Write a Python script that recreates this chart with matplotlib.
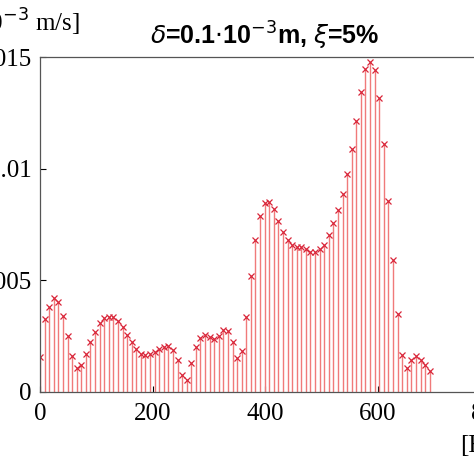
import matplotlib
matplotlib.use("Agg")
import matplotlib.pyplot as plt
import numpy as np

# amplitudes in 1e-3 m/s
amp = [
    1.55, 3.25, 3.82, 4.19, 4.02, 3.42, 2.51, 1.61, 1.06, 1.21,
    1.70, 2.22, 2.70, 3.07, 3.30, 3.37, 3.37, 3.19, 2.93, 2.55,
    2.25, 1.91, 1.70, 1.66, 1.70, 1.81, 1.91, 2.03, 2.06, 1.88,
    1.43, 0.76, 0.54, 1.31, 2.03, 2.43, 2.55, 2.45, 2.36, 2.52,
    2.78, 2.75, 2.25, 1.54, 1.84, 3.37, 5.21, 6.81, 7.90, 8.48,
    8.52, 8.21, 7.67, 7.15, 6.81, 6.58, 6.51, 6.48, 6.39, 6.28,
    6.28, 6.39, 6.60, 7.02, 7.55, 8.15, 8.87, 9.76, 10.87, 12.15,
    13.45, 14.45, 14.79, 14.42, 13.15, 11.09, 8.57, 5.91, 3.48, 1.66,
    1.06, 1.43, 1.61, 1.43, 1.21, 0.95,
]
step = 8.15
freq = np.arange(len(amp)) * step
vals = np.array(amp) * 1e-3

xticks = [0, 200, 400, 600, 800]
yticks = [0, 0.005, 0.01, 0.015]
yticklabels = ["0", "0.005", "0.01", "0.015"]

W = 474
fig = plt.figure(figsize=(4.74, 4.74), dpi=100)
ax = fig.add_axes([40 / W, (W - 392) / W, 450 / W, 335 / W])

ax.vlines(freq, 0, vals, color="#f07a7a", lw=1.0)
ax.plot(freq, vals, "x", color="#d9263a", ms=5, mew=0.9)

ax.set_xlim(0, 800)
ax.set_ylim(0, 0.015)
ax.set_xticks(xticks)
ax.set_yticks(yticks)
ax.set_yticklabels(yticklabels)
ax.tick_params(direction="in", length=4, labelsize=18)
ax.tick_params(axis="x", pad=8)
ax.tick_params(axis="y", pad=6)
for lab in ax.get_xticklabels() + ax.get_yticklabels():
    lab.set_family("Liberation Serif")
for s in ax.spines.values():
    s.set_color("#555555")
    s.set_linewidth(0.9)

ax.set_title(r"$\delta$=0.1$\cdot$10$^{-3}$m, $\xi$=5%", fontsize=18,
             fontweight="bold", family="Liberation Sans", pad=9)
fig.text(80 / W, 1 - 22 / W, r"[10$^{-3}$ m/s]", ha="right", va="center",
         fontsize=18, family="Liberation Serif")
fig.text(460 / W, 1 - 446 / W, "[Hz]", ha="left", va="center",
         fontsize=18, family="Liberation Serif")

fig.savefig("out.png", dpi=100)
